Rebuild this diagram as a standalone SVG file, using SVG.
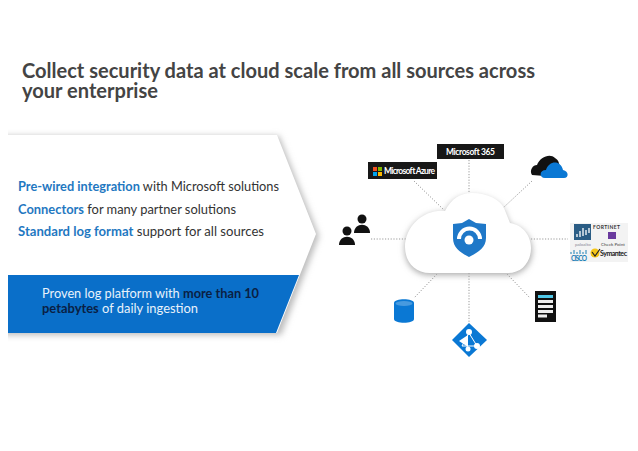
<svg xmlns="http://www.w3.org/2000/svg" width="638" height="451" viewBox="0 0 638 451">
<style>
text{font-family:Lato,"Open Sans","Liberation Sans",sans-serif}
.t{font-size:20px;fill:#444;font-weight:700}
.b{font-size:13px;fill:#333}
.h{fill:#1f78c1;font-weight:700}
.w{font-size:13px;fill:#e8f2fb}
.d{fill:#0a1f44;font-weight:700}
.c{stroke:#999;stroke-width:1;stroke-dasharray:1.2 1.6;fill:none}
.k{fill:#171717}
.l{fill:#fff;font-size:8.500px;font-weight:700}
.az{fill:#0a78d4}
</style>
<defs>
<filter id="s" x="-10%" y="-15%" width="125%" height="135%"><feGaussianBlur stdDeviation="3"/></filter>
<clipPath id="pc"><rect x="8" y="120" width="330" height="230"/></clipPath>
</defs>
<rect width="638" height="451" fill="#fff"/>
<g id="title">
<text class="t" x="22" y="78" textLength="513" lengthAdjust="spacingAndGlyphs">Collect security data at cloud scale from all sources across</text>
<text class="t" x="22" y="98" textLength="136" lengthAdjust="spacingAndGlyphs">your enterprise</text>
</g>
<g id="panel">
<g clip-path="url(#pc)"><path d="M0 136H279L319 236L281 335H0Z" fill="#bbb" filter="url(#s)"/></g>
<path d="M8 135H277L316 234L277 333H8Z" fill="#fff"/>
<path d="M8 275H299L276 333H8Z" fill="#0a6fc9"/>
<text class="b" x="18" y="191" textLength="261" lengthAdjust="spacingAndGlyphs"><tspan class="h">Pre-wired integration</tspan> with Microsoft solutions</text>
<text class="b" x="18" y="214" textLength="218" lengthAdjust="spacingAndGlyphs"><tspan class="h">Connectors</tspan> for many partner solutions</text>
<text class="b" x="18" y="236" textLength="246" lengthAdjust="spacingAndGlyphs"><tspan class="h">Standard log format</tspan> support for all sources</text>
<text class="w" x="42" y="298" textLength="217" lengthAdjust="spacingAndGlyphs">Proven log platform with <tspan class="d">more than 10</tspan></text>
<text class="w" x="42" y="313" textLength="156" lengthAdjust="spacingAndGlyphs"><tspan class="d">petabytes</tspan> of daily ingestion</text>
</g>
<g id="connectors">
<path class="c" d="M371 239H408"/>
<path class="c" d="M414 181L444 210"/>
<path class="c" d="M469 160V195"/>
<path class="c" d="M532 181L503 208"/>
<path class="c" d="M531 239H568"/>
<path class="c" d="M437 274L414 298"/>
<path class="c" d="M469 273V322"/>
<path class="c" d="M507 274L530 298"/>
</g>
<g id="cloud">
<path d="M430 275C414 275 405 263 405 249C405 228 424 211 445 213C451 201 460 196 472 196C488 196 500 203 504 211C506 216 508 221 510 225C523 227 532 238 532 251C532 264 522 275 508 275Z" fill="#aaa" filter="url(#s)"/>
<path d="M430 273C414 273 405 261 405 247C405 226 424 209 445 211C451 199 460 193 472 193C488 193 500 200 504 208C506 213 508 218 510 223C523 225 531 236 531 248C531 262 522 273 508 273Z" fill="#fff"/>
<path d="M469 219L476 223L486 224V238C486 248 477 253 469 257C461 253 453 248 453 238V224L462 223Z" fill="#1f78c8"/>
<path d="M459 239A10.500 10.500 0 0 1 480 239" fill="none" stroke="#fff" stroke-width="4"/>
<circle cx="469" cy="240" r="4.500" fill="#fff"/>
</g>
<g id="azure">
<rect class="k" x="368" y="162" width="69" height="17"/>
<rect x="373" y="167" width="4" height="4" fill="#f25022"/><rect x="378" y="167" width="4" height="4" fill="#7fba00"/><rect x="373" y="172" width="4" height="4" fill="#00a4ef"/><rect x="378" y="172" width="4" height="4" fill="#ffb900"/>
<text class="l" x="384" y="174" textLength="51">Microsoft Azure</text>
</g>
<g id="m365">
<rect class="k" x="437" y="144" width="67" height="15"/>
<text class="l" x="446" y="155" textLength="49">Microsoft 365</text>
</g>
<g id="onedrive">
<path d="M532 175C529 170 533 165 537 165C540 157 550 153 555 158C559 160 560 165 559 169L545 176Z" fill="#111"/>
<path d="M545 178C539 178 539 170 546 170C549 160 561 160 563 170C569 171 569 178 564 178Z" fill="#0a78d4"/>
</g>
<g id="partners">
<rect x="570" y="223" width="58" height="39" fill="#f3f3f3"/>
<rect x="574" y="224" width="17" height="16" fill="#2b5d85"/>
<path d="M577 237V234M580 237V231M583 236V228M586 235V230M589 233V228" stroke="#fff" stroke-width="1.300"/>
<text x="575" y="246" font-size="4.500" fill="#889">paloalto</text>
<text x="593" y="229" font-size="5" font-weight="700" fill="#333" textLength="27">FORTINET</text>
<rect x="608" y="232" width="8" height="7" fill="#6a3a9e"/>
<text x="601" y="246" font-size="4.500" fill="#444">Check Point</text>
<path d="M571 254V252M574 254V250M577 254V252M580 254V250M583 254V252M586 254V250" stroke="#1a80b6" stroke-width="1"/>
<text x="571" y="260.500" font-size="6.500" font-weight="700" fill="#1a80b6" textLength="16">CISCO</text>
<circle cx="595" cy="253" r="4.500" fill="#f5c518"/>
<path d="M592 252L595 256L600 249" fill="none" stroke="#222" stroke-width="1.200"/>
<text x="600" y="256" font-size="7" font-weight="700" fill="#222" textLength="27">Symantec</text>
</g>
<g id="users">
<circle cx="362" cy="219" r="4.500" fill="#111"/>
<path d="M354 233C354 222 370 222 370 233Z" fill="#111"/>
<circle cx="347" cy="231" r="4.500" fill="#111"/>
<path d="M339 245C339 234 355 234 355 245Z" fill="#111"/>
</g>
<g id="database">
<path class="az" d="M394 303C394 298 414 298 414 303V319C414 324 394 324 394 319Z"/>
<ellipse cx="404" cy="303.500" rx="8.500" ry="2.500" fill="#fff" opacity=".25"/>
</g>
<g id="aad">
<path class="az" d="M469 323L487 340L469 357L452 340Z"/>
<path d="M469 333L477 346H462Z" fill="none" stroke="#fff" stroke-width="1"/>
<path d="M468 335L459 341L468 347Z" fill="#fff"/>
<circle cx="469" cy="332" r="3" fill="#fff"/><circle cx="477" cy="346" r="3" fill="#fff"/><circle cx="468" cy="349" r="2.500" fill="#fff"/>
</g>
<g id="logs">
<rect x="535" y="291" width="21" height="31" fill="#111"/>
<rect x="538" y="295" width="15" height="3" fill="#50c8e8"/>
<rect x="538" y="300" width="15" height="3" fill="#eee"/>
<rect x="538" y="305" width="15" height="3" fill="#eee"/>
<rect x="538" y="310" width="15" height="3" fill="#eee"/>
<rect x="538" y="314.500" width="9" height="3" fill="#eee"/>
</g>
</svg>
